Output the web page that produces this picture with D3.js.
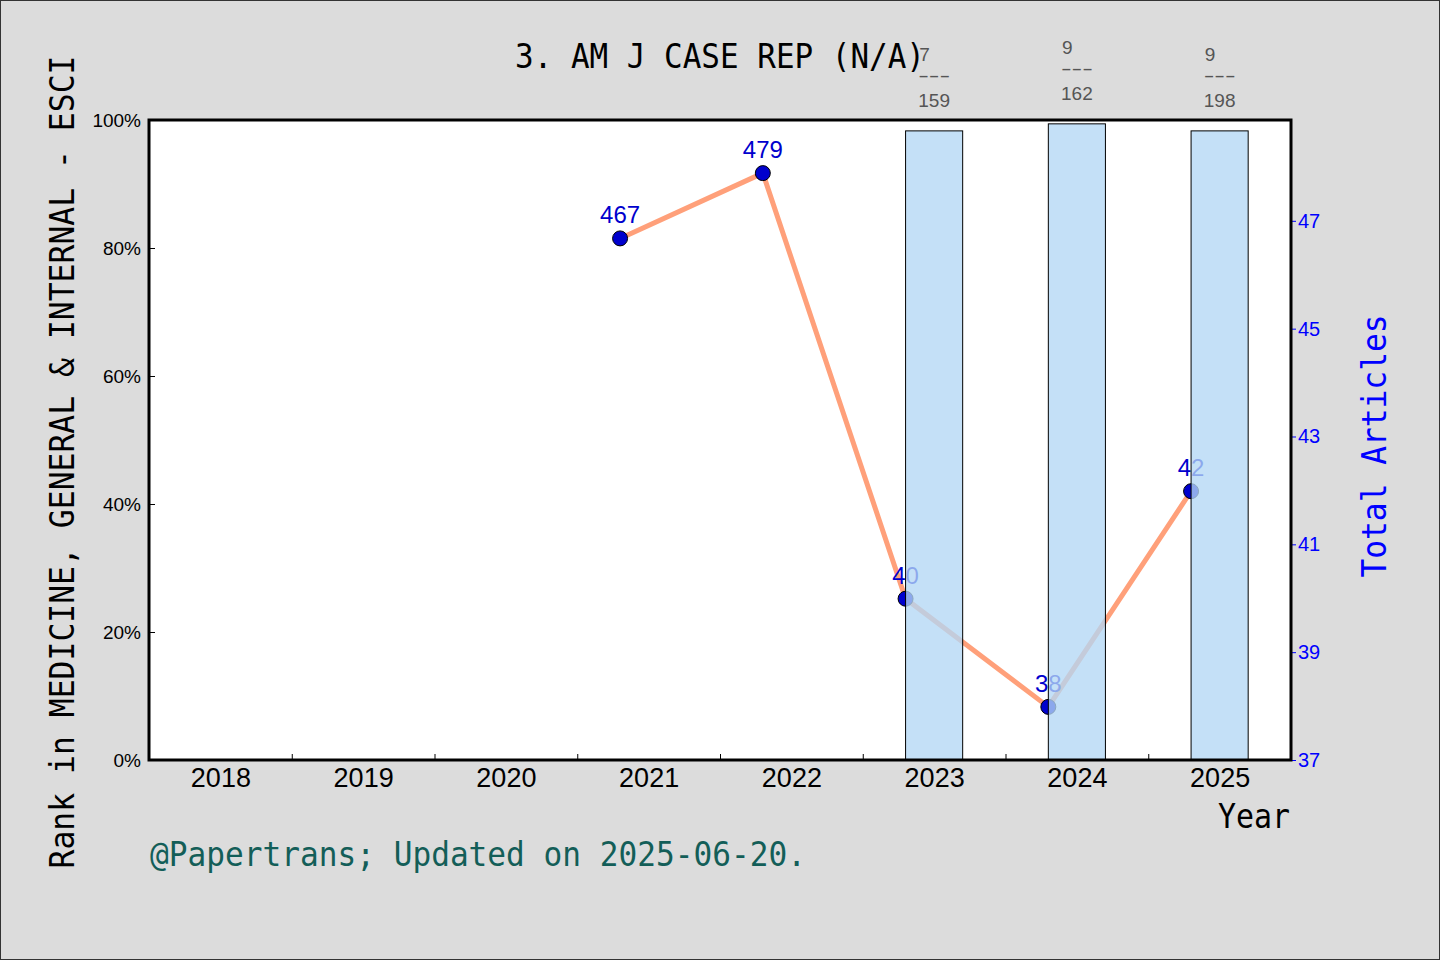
<!DOCTYPE html>
<html>
<head>
<meta charset="utf-8">
<script src="https://cdn.jsdelivr.net/npm/d3@7"></script>
<style>
  html, body { margin: 0; padding: 0; background: #dcdcdc; }
  svg { display: block; }
</style>
</head>
<body>
<div id="chart"></div>
<script>
// data
var years = [2018, 2019, 2020, 2021, 2022, 2023, 2024, 2025];
var rankYears = [2021, 2022, 2023, 2024, 2025];
var rankPct = [81.5, 91.7, 25.2, 8.3, 42.0];
var rankLabels = ["467", "479", "40", "38", "42"];
var barYears = [2023, 2024, 2025];
var barPct = [98.3, 99.4, 98.3];
var barTop = ["7", "9", "9"];
var barBottom = ["159", "162", "198"];
var pctTicks = [0, 20, 40, 60, 80, 100];
var articleTicks = [37, 39, 41, 43, 45, 47];

var W = 1440, H = 960;
// "top" is taken by window.top, so use prefixed names
var plotL = 149, plotR = 1291, plotT = 120, plotB = 760;
var mono = "'DejaVu Sans Mono', 'Liberation Mono', monospace";
var sans = "'Liberation Sans', Arial, sans-serif";

var svg = d3.select("#chart").append("svg")
    .attr("width", W)
    .attr("height", H);

svg.append("rect")
    .attr("x", 0.5).attr("y", 0.5)
    .attr("width", W - 1).attr("height", H - 1)
    .attr("fill", "#dcdcdc")
    .attr("stroke", "#333").attr("stroke-width", 1);

var x = d3.scaleLinear().domain([2017.5, 2025.5]).range([plotL, plotR]);
var y = d3.scaleLinear().domain([0, 100]).range([plotB, plotT]);
var yR = d3.scaleLinear().domain([37, 48.87]).range([plotB, plotT]);

// plot background
svg.append("rect")
    .attr("x", plotL).attr("y", plotT)
    .attr("width", plotR - plotL).attr("height", plotB - plotT)
    .attr("fill", "white");

// rank line (points sit 0.2 year left of the tick)
var pts = rankYears.map(function(yr, i){
    return {x: yr - 0.2, v: rankPct[i], label: rankLabels[i]};
});

svg.append("path")
    .datum(pts)
    .attr("fill", "none")
    .attr("stroke", "#ffa07a")
    .attr("stroke-width", 5)
    .attr("stroke-linejoin", "round")
    .attr("d", d3.line()
        .x(function(d){ return x(d.x); })
        .y(function(d){ return y(d.v); }));

svg.selectAll("circle.pt")
    .data(pts)
    .enter().append("circle")
    .attr("class", "pt")
    .attr("cx", function(d){ return x(d.x); })
    .attr("cy", function(d){ return y(d.v); })
    .attr("r", 7.5)
    .attr("fill", "#0000cd")
    .attr("stroke", "black")
    .attr("stroke-width", 1);

svg.selectAll("text.pt")
    .data(pts)
    .enter().append("text")
    .attr("class", "pt")
    .attr("x", function(d){ return x(d.x); })
    .attr("y", function(d){ return y(d.v) - 15; })
    .attr("text-anchor", "middle")
    .attr("font-family", sans)
    .attr("font-size", 24)
    .attr("fill", "#0000cd")
    .text(function(d){ return d.label; });

// article bars, drawn over the line with some transparency
var bars = barYears.map(function(yr, i){
    return {yr: yr, v: barPct[i], t: barTop[i], b: barBottom[i]};
});

svg.selectAll("rect.bar")
    .data(bars)
    .enter().append("rect")
    .attr("class", "bar")
    .attr("x", function(d){ return x(d.yr - 0.2); })
    .attr("y", function(d){ return y(d.v); })
    .attr("width", function(d){ return x(d.yr + 0.2) - x(d.yr - 0.2); })
    .attr("height", function(d){ return plotB - y(d.v); })
    .attr("fill", "rgb(180,215,245)")
    .attr("fill-opacity", 0.78)
    .attr("stroke", "black")
    .attr("stroke-width", 1);

var barLab = svg.selectAll("g.barlab")
    .data(bars)
    .enter().append("g")
    .attr("class", "barlab")
    .attr("font-family", sans)
    .attr("font-size", 19)
    .attr("fill", "#555");

barLab.append("text")
    .attr("x", function(d){ return x(d.yr) - 15; })
    .attr("y", function(d){ return y(d.v) - 70; })
    .text(function(d){ return d.t; });
barLab.append("text")
    .attr("x", function(d){ return x(d.yr); })
    .attr("y", function(d){ return y(d.v) - 49; })
    .attr("text-anchor", "middle")
    .attr("textLength", 32)
    .attr("lengthAdjust", "spacingAndGlyphs")
    .text("---");
barLab.append("text")
    .attr("x", function(d){ return x(d.yr); })
    .attr("y", function(d){ return y(d.v) - 24; })
    .attr("text-anchor", "middle")
    .text(function(d){ return d.b; });

// left axis
var yAxis = svg.append("g")
    .attr("transform", "translate(" + plotL + ",0)")
    .call(d3.axisLeft(y).tickValues(pctTicks)
        .tickFormat(function(d){ return d + "%"; })
        .tickSizeInner(-6).tickSizeOuter(0).tickPadding(8));
yAxis.select(".domain").remove();
yAxis.selectAll("line").attr("stroke", "black");
yAxis.selectAll("text")
    .attr("font-family", sans).attr("font-size", 19).attr("fill", "black");

// right axis
var rAxis = svg.append("g")
    .attr("transform", "translate(" + plotR + ",0)")
    .call(d3.axisRight(yR).tickValues(articleTicks)
        .tickSizeInner(5).tickSizeOuter(0).tickPadding(2));
rAxis.select(".domain").remove();
rAxis.selectAll("line").attr("stroke", "blue");
rAxis.selectAll("text")
    .attr("font-family", sans).attr("font-size", 20).attr("fill", "blue");

// bottom axis: labels at years, small ticks between years
var xAxis = svg.append("g")
    .attr("transform", "translate(0," + plotB + ")")
    .call(d3.axisBottom(x).tickValues(years)
        .tickFormat(d3.format("d"))
        .tickSize(0).tickPadding(8));
xAxis.select(".domain").remove();
xAxis.selectAll("text")
    .attr("font-family", sans).attr("font-size", 27).attr("fill", "black");

var minor = svg.append("g")
    .attr("transform", "translate(0," + plotB + ")")
    .call(d3.axisBottom(x).tickValues(years.slice(0, -1).map(function(d){ return d + 0.5; }))
        .tickFormat("").tickSizeInner(-6).tickSizeOuter(0));
minor.select(".domain").remove();
minor.selectAll("line").attr("stroke", "black");

// frame
svg.append("rect")
    .attr("x", plotL).attr("y", plotT)
    .attr("width", plotR - plotL).attr("height", plotB - plotT)
    .attr("fill", "none")
    .attr("stroke", "black")
    .attr("stroke-width", 3);

// texts
function monoText(txt, px, py, len, color, rotate, anchor){
    var t = svg.append("text")
        .attr("font-family", mono)
        .attr("font-size", 34)
        .attr("fill", color)
        .attr("text-anchor", anchor || "middle")
        .attr("textLength", len)
        .attr("lengthAdjust", "spacingAndGlyphs")
        .text(txt);
    if(rotate){
        t.attr("transform", "translate(" + px + "," + py + ") rotate(-90)");
    } else {
        t.attr("x", px).attr("y", py);
    }
    return t;
}

monoText("3. AM J CASE REP (N/A)", 720, 68, 410, "black");
monoText("Rank in MEDICINE, GENERAL & INTERNAL - ESCI", 74, 462, 813, "black", true);
monoText("Total Articles", 1386, 446, 263, "blue", true);
monoText("Year", 1290, 828, 72, "black", false, "end");
monoText("@Papertrans; Updated on 2025-06-20.", 150, 866, 656, "#135e58", false, "start");
</script>
</body>
</html>
